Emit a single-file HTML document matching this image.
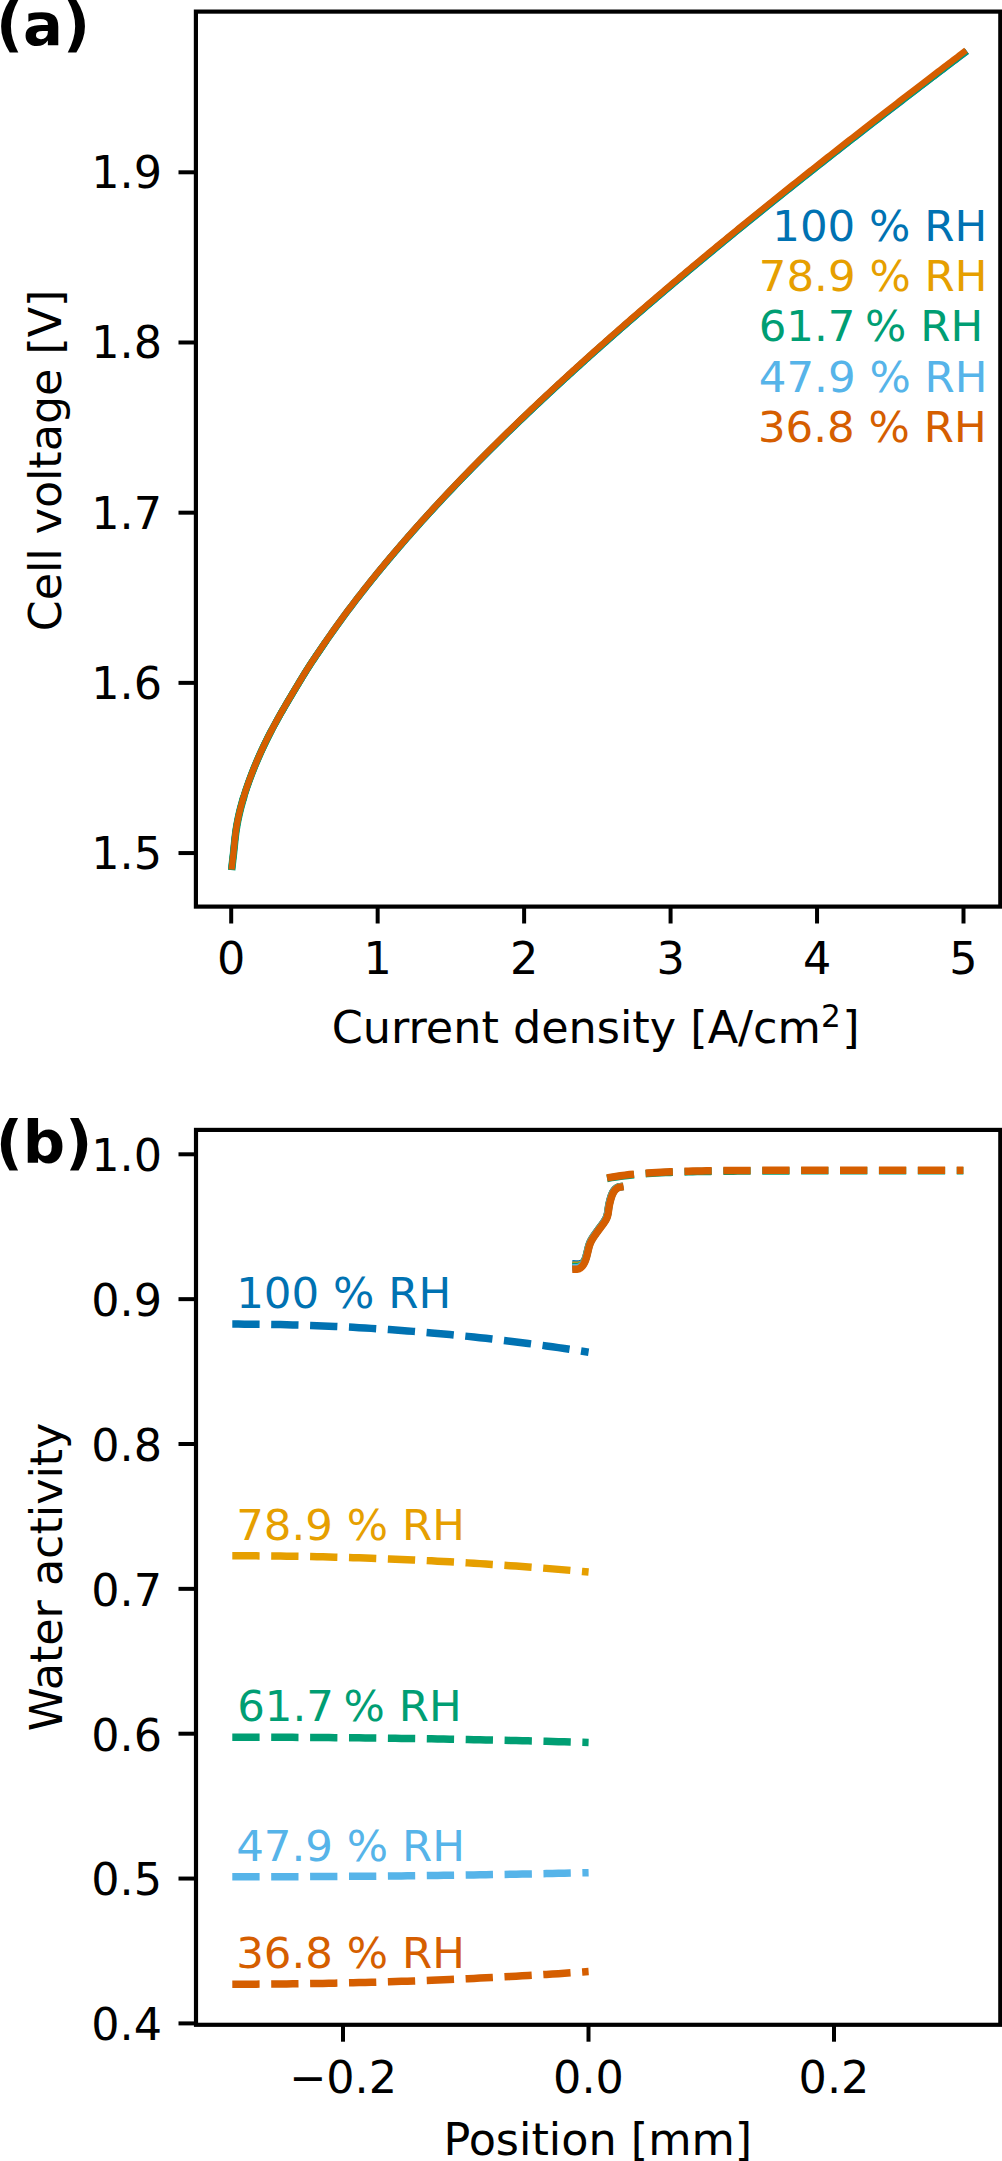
<!DOCTYPE html>
<html lang="en"><head><meta charset="utf-8"><title>Cell voltage and water activity</title>
<style>
html,body{margin:0;padding:0;background:#fff;}
svg{display:block;}
text{font-family:"DejaVu Sans", "Liberation Sans", sans-serif;font-size:44.5px;}
.an{font-size:43.5px;}
</style></head>
<body>
<svg width="1002" height="2161" viewBox="0 0 1002 2161">
<rect width="1002" height="2161" fill="#fff"/>
<rect x="195.9" y="11.6" width="804.40" height="895.00" fill="none" stroke="#000" stroke-width="4.17"/>
<path d="M231.95 866.35 L232.25 863.54 L232.57 860.73 L232.90 857.92 L233.23 855.12 L233.53 852.32 L233.82 849.52 L234.10 846.73 L234.39 843.95 L234.68 841.16 L234.98 838.39 L235.31 835.61 L235.66 832.84 L236.05 830.08 L236.47 827.32 L236.94 824.57 L237.45 821.82 L238.00 819.08 L238.58 816.35 L239.20 813.62 L239.85 810.90 L240.53 808.18 L241.25 805.47 L242.00 802.77 L242.77 800.08 L243.58 797.39 L244.40 794.71 L245.26 792.04 L246.13 789.37 L247.03 786.72 L247.95 784.07 L248.90 781.43 L249.86 778.80 L250.84 776.17 L251.84 773.56 L252.85 770.95 L253.89 768.35 L254.95 765.76 L256.02 763.17 L257.12 760.60 L258.23 758.03 L259.36 755.47 L260.51 752.91 L261.67 750.36 L262.86 747.82 L264.06 745.29 L265.28 742.76 L266.51 740.24 L267.76 737.73 L269.03 735.23 L270.31 732.73 L271.61 730.23 L272.93 727.75 L274.26 725.27 L275.61 722.79 L276.96 720.33 L278.33 717.86 L279.71 715.41 L281.11 712.96 L282.51 710.52 L283.92 708.08 L285.33 705.64 L286.76 703.22 L288.18 700.79 L289.62 698.38 L291.05 695.97 L292.49 693.56 L293.93 691.16 L295.37 688.76 L296.81 686.37 L298.25 683.99 L299.69 681.60 L301.13 679.23 L302.56 676.86 L304.00 674.49 L305.45 672.14 L306.92 669.79 L308.41 667.45 L309.92 665.11 L311.46 662.77 L313.01 660.43 L314.58 658.09 L316.16 655.74 L317.76 653.38 L319.36 651.02 L320.97 648.66 L322.59 646.29 L324.21 643.93 L325.82 641.57 L327.44 639.22 L329.06 636.89 L330.67 634.57 L332.28 632.27 L333.89 629.98 L335.50 627.71 L337.12 625.45 L338.74 623.21 L340.37 620.97 L342.00 618.74 L343.63 616.51 L345.28 614.29 L346.93 612.07 L348.59 609.86 L350.25 607.65 L351.92 605.44 L353.59 603.24 L355.28 601.04 L356.96 598.84 L358.66 596.65 L360.36 594.46 L362.07 592.28 L363.78 590.09 L365.50 587.91 L367.22 585.74 L368.95 583.57 L370.69 581.40 L372.43 579.23 L374.18 577.07 L375.93 574.91 L377.69 572.75 L379.45 570.60 L381.22 568.45 L383.00 566.30 L384.78 564.16 L386.56 562.02 L388.35 559.88 L390.15 557.75 L391.95 555.61 L393.76 553.49 L395.57 551.36 L397.39 549.24 L399.21 547.12 L401.04 545.00 L402.87 542.88 L404.70 540.77 L406.55 538.66 L408.39 536.56 L410.24 534.45 L412.10 532.35 L413.96 530.26 L415.82 528.16 L417.69 526.07 L419.57 523.98 L421.44 521.89 L423.33 519.81 L425.21 517.73 L427.10 515.65 L429.00 513.57 L430.90 511.50 L432.80 509.43 L434.71 507.36 L436.62 505.30 L438.54 503.23 L440.46 501.17 L442.38 499.12 L444.31 497.06 L446.24 495.01 L448.17 492.96 L450.11 490.91 L452.05 488.87 L454.00 486.83 L455.95 484.79 L457.90 482.75 L459.85 480.72 L461.81 478.69 L463.78 476.66 L465.74 474.63 L467.71 472.61 L469.68 470.59 L471.66 468.57 L473.64 466.56 L475.62 464.54 L477.60 462.53 L479.59 460.53 L481.58 458.52 L483.57 456.52 L485.57 454.52 L487.57 452.52 L489.57 450.53 L491.57 448.54 L493.58 446.55 L495.59 444.56 L497.60 442.58 L499.61 440.60 L501.63 438.62 L503.65 436.64 L505.67 434.67 L507.69 432.70 L509.72 430.73 L511.74 428.77 L513.77 426.80 L515.80 424.84 L517.84 422.89 L519.87 420.93 L521.91 418.98 L523.95 417.03 L525.99 415.08 L528.03 413.14 L530.08 411.20 L532.13 409.26 L534.17 407.33 L536.22 405.39 L538.27 403.46 L540.33 401.54 L542.38 399.61 L544.43 397.69 L546.49 395.77 L548.55 393.86 L550.61 391.94 L552.67 390.03 L554.73 388.12 L556.79 386.22 L558.85 384.32 L560.92 382.42 L562.98 380.52 L565.05 378.63 L567.12 376.74 L569.18 374.85 L571.25 372.97 L573.32 371.08 L575.39 369.21 L577.46 367.33 L579.53 365.46 L581.60 363.59 L583.67 361.72 L585.75 359.85 L587.82 357.99 L589.89 356.13 L591.97 354.28 L594.04 352.43 L596.11 350.58 L598.19 348.73 L600.26 346.89 L602.33 345.05 L604.41 343.21 L606.48 341.38 L608.56 339.54 L610.63 337.71 L612.71 335.88 L614.79 334.06 L616.87 332.23 L618.95 330.41 L621.03 328.59 L623.11 326.77 L625.19 324.96 L627.28 323.14 L629.37 321.32 L631.46 319.51 L633.55 317.70 L635.64 315.89 L637.74 314.07 L639.84 312.26 L641.94 310.45 L644.04 308.64 L646.15 306.83 L648.25 305.02 L650.37 303.21 L652.48 301.40 L654.60 299.59 L656.72 297.78 L658.84 295.97 L660.97 294.16 L663.10 292.35 L665.24 290.54 L667.38 288.72 L669.52 286.91 L671.67 285.09 L673.82 283.28 L675.98 281.46 L678.14 279.64 L680.30 277.82 L682.47 276.00 L684.64 274.18 L686.81 272.36 L688.99 270.54 L691.17 268.72 L693.35 266.90 L695.53 265.07 L697.72 263.26 L699.90 261.44 L702.09 259.62 L704.28 257.80 L706.48 255.98 L708.67 254.17 L710.86 252.35 L713.06 250.54 L715.25 248.73 L717.45 246.92 L719.64 245.12 L721.84 243.31 L724.03 241.51 L726.23 239.71 L728.42 237.91 L730.62 236.12 L732.81 234.32 L735.00 232.53 L737.19 230.75 L739.38 228.96 L741.56 227.18 L743.75 225.41 L745.93 223.63 L748.11 221.86 L750.29 220.10 L752.46 218.34 L754.64 216.58 L756.81 214.82 L758.98 213.07 L761.15 211.31 L763.32 209.57 L765.49 207.82 L767.65 206.08 L769.82 204.34 L771.98 202.60 L774.15 200.86 L776.31 199.13 L778.47 197.40 L780.63 195.67 L782.80 193.94 L784.96 192.21 L787.12 190.49 L789.28 188.77 L791.44 187.04 L793.60 185.32 L795.77 183.60 L797.93 181.88 L800.09 180.17 L802.26 178.45 L804.42 176.73 L806.59 175.02 L808.76 173.30 L810.92 171.59 L813.09 169.87 L815.26 168.16 L817.44 166.45 L819.61 164.73 L821.79 163.02 L823.97 161.30 L826.15 159.59 L828.33 157.87 L830.51 156.16 L832.70 154.44 L834.89 152.73 L837.08 151.01 L839.27 149.29 L841.47 147.57 L843.67 145.85 L845.88 144.13 L848.08 142.41 L850.29 140.69 L852.50 138.96 L854.72 137.24 L856.94 135.51 L859.17 133.78 L861.39 132.05 L863.63 130.31 L865.86 128.58 L868.10 126.84 L870.35 125.10 L872.59 123.36 L874.85 121.61 L877.11 119.87 L879.37 118.12 L881.64 116.37 L883.91 114.61 L886.19 112.85 L888.47 111.09 L890.76 109.33 L893.05 107.56 L895.35 105.80 L897.65 104.03 L899.96 102.25 L902.27 100.48 L904.57 98.71 L906.88 96.94 L909.19 95.17 L911.50 93.40 L913.80 91.64 L916.11 89.87 L918.40 88.12 L920.70 86.36 L922.99 84.62 L925.27 82.87 L927.54 81.14 L929.81 79.41 L932.07 77.69 L934.31 75.98 L936.55 74.28 L938.77 72.58 L940.99 70.90 L943.19 69.23 L945.37 67.57 L947.54 65.92 L949.69 64.29 L951.83 62.66 L953.95 61.06 L956.05 59.47 L958.13 57.89 L960.20 56.33 L962.24 54.78 L964.26 53.26" fill="none" stroke="#0072B2" stroke-width="6.70" stroke-linecap="square" stroke-linejoin="round"/>
<path d="M231.95 866.35 L232.25 863.54 L232.57 860.73 L232.90 857.92 L233.23 855.12 L233.53 852.32 L233.82 849.52 L234.10 846.73 L234.39 843.95 L234.68 841.16 L234.98 838.39 L235.30 835.61 L235.66 832.84 L236.05 830.08 L236.47 827.32 L236.94 824.57 L237.45 821.82 L238.00 819.08 L238.58 816.35 L239.20 813.62 L239.85 810.90 L240.53 808.18 L241.25 805.47 L241.99 802.77 L242.77 800.08 L243.57 797.39 L244.40 794.71 L245.25 792.04 L246.13 789.37 L247.03 786.72 L247.95 784.07 L248.89 781.43 L249.85 778.80 L250.83 776.17 L251.83 773.56 L252.85 770.95 L253.89 768.35 L254.94 765.76 L256.02 763.17 L257.11 760.59 L258.22 758.02 L259.35 755.46 L260.50 752.91 L261.67 750.36 L262.85 747.82 L264.05 745.29 L265.27 742.76 L266.50 740.24 L267.75 737.73 L269.02 735.22 L270.30 732.72 L271.60 730.23 L272.92 727.74 L274.25 725.26 L275.59 722.79 L276.95 720.32 L278.32 717.86 L279.70 715.40 L281.09 712.95 L282.49 710.51 L283.90 708.07 L285.32 705.64 L286.74 703.21 L288.17 700.79 L289.60 698.37 L291.04 695.96 L292.48 693.55 L293.92 691.15 L295.36 688.75 L296.80 686.36 L298.24 683.98 L299.68 681.59 L301.11 679.22 L302.54 676.85 L303.98 674.48 L305.43 672.13 L306.90 669.78 L308.39 667.44 L309.91 665.10 L311.44 662.76 L312.99 660.42 L314.56 658.07 L316.14 655.72 L317.74 653.37 L319.34 651.01 L320.95 648.64 L322.57 646.28 L324.18 643.91 L325.80 641.56 L327.42 639.21 L329.03 636.87 L330.65 634.55 L332.26 632.25 L333.87 629.96 L335.48 627.69 L337.10 625.43 L338.72 623.19 L340.34 620.95 L341.97 618.72 L343.61 616.50 L345.25 614.27 L346.90 612.05 L348.56 609.84 L350.22 607.63 L351.89 605.42 L353.57 603.22 L355.25 601.02 L356.94 598.82 L358.63 596.63 L360.33 594.44 L362.04 592.25 L363.75 590.07 L365.47 587.89 L367.19 585.72 L368.92 583.54 L370.66 581.37 L372.40 579.21 L374.15 577.04 L375.90 574.89 L377.66 572.73 L379.42 570.58 L381.19 568.42 L382.97 566.28 L384.75 564.13 L386.53 561.99 L388.32 559.85 L390.12 557.72 L391.92 555.59 L393.73 553.46 L395.54 551.33 L397.35 549.21 L399.17 547.09 L401.00 544.97 L402.83 542.85 L404.67 540.74 L406.51 538.63 L408.36 536.53 L410.21 534.42 L412.06 532.32 L413.92 530.22 L415.79 528.13 L417.65 526.04 L419.53 523.95 L421.41 521.86 L423.29 519.77 L425.17 517.69 L427.06 515.61 L428.96 513.54 L430.86 511.46 L432.76 509.39 L434.67 507.32 L436.58 505.26 L438.49 503.20 L440.41 501.14 L442.34 499.08 L444.26 497.02 L446.19 494.97 L448.13 492.92 L450.07 490.87 L452.01 488.83 L453.95 486.79 L455.90 484.75 L457.85 482.71 L459.81 480.68 L461.77 478.65 L463.73 476.62 L465.69 474.59 L467.66 472.57 L469.64 470.55 L471.61 468.53 L473.59 466.51 L475.57 464.50 L477.55 462.49 L479.54 460.48 L481.53 458.47 L483.52 456.47 L485.52 454.47 L487.52 452.47 L489.52 450.48 L491.52 448.49 L493.53 446.50 L495.54 444.51 L497.55 442.53 L499.56 440.54 L501.58 438.57 L503.59 436.59 L505.62 434.62 L507.64 432.64 L509.66 430.68 L511.69 428.71 L513.72 426.75 L515.75 424.79 L517.78 422.83 L519.82 420.87 L521.86 418.92 L523.90 416.97 L525.94 415.03 L527.98 413.08 L530.02 411.14 L532.07 409.20 L534.12 407.27 L536.17 405.33 L538.22 403.40 L540.27 401.48 L542.32 399.55 L544.38 397.63 L546.43 395.71 L548.49 393.79 L550.55 391.88 L552.61 389.97 L554.67 388.06 L556.73 386.15 L558.79 384.25 L560.86 382.35 L562.92 380.46 L564.99 378.56 L567.05 376.67 L569.12 374.78 L571.19 372.90 L573.26 371.02 L575.33 369.14 L577.40 367.26 L579.47 365.39 L581.54 363.51 L583.61 361.65 L585.68 359.78 L587.75 357.92 L589.83 356.06 L591.90 354.21 L593.97 352.35 L596.05 350.50 L598.12 348.66 L600.19 346.81 L602.27 344.97 L604.34 343.13 L606.41 341.30 L608.49 339.47 L610.56 337.63 L612.64 335.81 L614.72 333.98 L616.80 332.16 L618.88 330.33 L620.96 328.51 L623.04 326.69 L625.12 324.87 L627.21 323.06 L629.30 321.24 L631.38 319.43 L633.48 317.61 L635.57 315.80 L637.66 313.99 L639.76 312.18 L641.86 310.37 L643.97 308.56 L646.07 306.75 L648.18 304.94 L650.29 303.13 L652.41 301.32 L654.52 299.51 L656.64 297.70 L658.77 295.88 L660.90 294.07 L663.03 292.26 L665.16 290.45 L667.30 288.63 L669.45 286.82 L671.59 285.00 L673.75 283.18 L675.90 281.36 L678.06 279.55 L680.22 277.72 L682.39 275.90 L684.56 274.08 L686.73 272.26 L688.91 270.44 L691.09 268.62 L693.27 266.80 L695.45 264.98 L697.64 263.16 L699.82 261.34 L702.01 259.52 L704.20 257.70 L706.39 255.88 L708.59 254.07 L710.78 252.25 L712.97 250.44 L715.17 248.63 L717.36 246.82 L719.56 245.01 L721.75 243.21 L723.95 241.41 L726.14 239.60 L728.34 237.81 L730.53 236.01 L732.72 234.22 L734.91 232.43 L737.10 230.64 L739.29 228.86 L741.48 227.08 L743.66 225.30 L745.84 223.52 L748.02 221.75 L750.20 219.99 L752.37 218.22 L754.55 216.46 L756.72 214.71 L758.89 212.95 L761.06 211.20 L763.23 209.45 L765.40 207.71 L767.56 205.96 L769.73 204.22 L771.89 202.49 L774.05 200.75 L776.22 199.01 L778.38 197.28 L780.54 195.55 L782.70 193.82 L784.86 192.10 L787.02 190.37 L789.19 188.65 L791.35 186.92 L793.51 185.20 L795.67 183.48 L797.83 181.76 L800.00 180.04 L802.16 178.33 L804.32 176.61 L806.49 174.89 L808.66 173.18 L810.83 171.46 L812.99 169.75 L815.17 168.03 L817.34 166.32 L819.51 164.61 L821.69 162.89 L823.87 161.18 L826.05 159.46 L828.23 157.75 L830.41 156.03 L832.60 154.31 L834.79 152.60 L836.98 150.88 L839.17 149.16 L841.37 147.44 L843.57 145.72 L845.77 144.00 L847.98 142.28 L850.19 140.55 L852.40 138.83 L854.62 137.10 L856.84 135.37 L859.06 133.64 L861.29 131.91 L863.52 130.18 L865.76 128.44 L867.99 126.70 L870.24 124.96 L872.49 123.22 L874.74 121.47 L877.00 119.73 L879.26 117.98 L881.53 116.23 L883.80 114.47 L886.08 112.71 L888.36 110.95 L890.65 109.19 L892.94 107.42 L895.24 105.65 L897.54 103.88 L899.85 102.11 L902.15 100.34 L904.46 98.56 L906.77 96.79 L909.08 95.02 L911.39 93.25 L913.69 91.49 L915.99 89.73 L918.29 87.97 L920.58 86.21 L922.87 84.47 L925.15 82.72 L927.43 80.99 L929.69 79.26 L931.95 77.54 L934.20 75.83 L936.43 74.12 L938.66 72.43 L940.87 70.75 L943.07 69.07 L945.25 67.41 L947.42 65.77 L949.58 64.13 L951.71 62.51 L953.83 60.90 L955.93 59.31 L958.01 57.73 L960.08 56.17 L962.12 54.62 L964.13 53.10" fill="none" stroke="#009E73" stroke-width="6.70" stroke-linecap="square" stroke-linejoin="round"/>
<path d="M232.05 866.35 L232.34 863.54 L232.67 860.73 L233.00 857.92 L233.32 855.12 L233.63 852.32 L233.91 849.52 L234.20 846.73 L234.48 843.95 L234.77 841.16 L235.07 838.38 L235.40 835.61 L235.75 832.84 L236.14 830.08 L236.57 827.32 L237.03 824.57 L237.54 821.82 L238.09 819.08 L238.67 816.35 L239.28 813.62 L239.94 810.89 L240.62 808.18 L241.33 805.47 L242.08 802.77 L242.85 800.07" fill="none" stroke="#009E73" stroke-width="7.50" stroke-linecap="square"/>
<path d="M242.85 800.07 L243.65 797.38 L244.48 794.70 L245.33 792.03 L246.21 789.37 L247.11 786.71 L248.03 784.06 L248.97 781.42 L249.93 778.79 L250.90 776.16 L251.90 773.55 L252.92 770.94 L253.96 768.34 L255.01 765.74 L256.09 763.16 L257.18 760.58 L258.29 758.01 L259.42 755.45 L260.56 752.89 L261.73 750.34 L262.91 747.80 L264.11 745.27 L265.32 742.74 L266.56 740.22 L267.81 737.70 L269.07 735.20 L270.35 732.70 L271.65 730.20" fill="none" stroke="#009E73" stroke-width="7.10" stroke-linecap="butt"/>
<path d="M271.65 730.20 L272.97 727.71 L274.30 725.23 L275.64 722.76 L276.99 720.29 L278.36 717.83 L279.74 715.37 L281.13 712.92 L282.53 710.47 L283.94 708.03 L285.35 705.60 L286.77 703.17 L288.20 700.75 L289.63 698.33 L291.07 695.91 L292.50 693.51 L293.94 691.10 L295.38 688.71 L296.82 686.31 L298.26 683.93 L299.69 681.54 L301.12 679.17 L302.56 676.79 L303.99 674.43 L305.44 672.07 L306.91 669.72 L308.40 667.38 L309.91 665.04 L311.44 662.70 L313.00 660.35 L314.56 658.01 L316.14 655.66 L317.74 653.30 L319.34 650.94 L320.95 648.57 L322.56 646.20 L324.17 643.84 L325.79 641.48" fill="none" stroke="#009E73" stroke-width="6.75" stroke-linecap="butt"/>
<path d="M231.95 866.35 L232.24 863.54 L232.57 860.73 L232.90 857.92 L233.22 855.12 L233.53 852.32 L233.81 849.52 L234.10 846.73 L234.38 843.95 L234.67 841.16 L234.97 838.38 L235.30 835.61 L235.65 832.84 L236.04 830.08 L236.47 827.32 L236.93 824.57 L237.44 821.82 L237.99 819.08 L238.57 816.35 L239.18 813.62 L239.84 810.89 L240.52 808.18 L241.23 805.47 L241.98 802.77 L242.75 800.07 L243.55 797.38 L244.38 794.70 L245.23 792.03 L246.11 789.37 L247.01 786.71 L247.93 784.06 L248.87 781.42 L249.83 778.79 L250.80 776.16 L251.80 773.55 L252.82 770.94 L253.86 768.34 L254.91 765.74 L255.99 763.16 L257.08 760.58 L258.19 758.01 L259.32 755.45 L260.46 752.89 L261.63 750.34 L262.81 747.80 L264.01 745.27 L265.22 742.74 L266.46 740.22 L267.71 737.70 L268.97 735.20 L270.25 732.70 L271.55 730.20 L272.87 727.71 L274.20 725.23 L275.54 722.76 L276.89 720.29 L278.26 717.83 L279.64 715.37 L281.03 712.92 L282.43 710.47 L283.84 708.03 L285.25 705.60 L286.67 703.17 L288.10 700.75 L289.53 698.33 L290.97 695.91 L292.40 693.51 L293.84 691.10 L295.28 688.71 L296.72 686.31 L298.16 683.93 L299.59 681.54 L301.02 679.17 L302.46 676.79 L303.89 674.43 L305.34 672.07 L306.81 669.72 L308.30 667.38 L309.81 665.04 L311.34 662.70 L312.90 660.35 L314.46 658.01 L316.04 655.66 L317.64 653.30 L319.24 650.94 L320.85 648.57 L322.46 646.20 L324.07 643.84 L325.69 641.48 L327.31 639.13 L328.92 636.79 L330.53 634.47 L332.14 632.17 L333.75 629.88 L335.36 627.61 L336.97 625.35 L338.59 623.10 L340.22 620.86 L341.84 618.63 L343.48 616.40 L345.12 614.18 L346.77 611.96 L348.43 609.74 L350.09 607.53 L351.75 605.32 L353.43 603.11 L355.11 600.91 L356.79 598.71 L358.49 596.52 L360.19 594.33 L361.89 592.14 L363.60 589.95 L365.32 587.77 L367.04 585.59 L368.77 583.42 L370.50 581.25 L372.24 579.08 L373.99 576.92 L375.74 574.75 L377.49 572.60 L379.26 570.44 L381.02 568.29 L382.80 566.14 L384.58 563.99 L386.36 561.85 L388.15 559.71 L389.94 557.57 L391.74 555.44 L393.55 553.31 L395.36 551.18 L397.17 549.05 L398.99 546.93 L400.82 544.81 L402.65 542.69 L404.48 540.58 L406.32 538.47 L408.16 536.36 L410.01 534.25 L411.87 532.15 L413.73 530.05 L415.59 527.95 L417.46 525.86 L419.33 523.77 L421.20 521.68 L423.08 519.59 L424.97 517.51 L426.86 515.42 L428.75 513.35 L430.65 511.27 L432.55 509.20 L434.45 507.13 L436.36 505.06 L438.28 502.99 L440.19 500.93 L442.12 498.87 L444.04 496.81 L445.97 494.76 L447.90 492.71 L449.84 490.66 L451.78 488.61 L453.72 486.57 L455.67 484.53 L457.62 482.49 L459.57 480.45 L461.53 478.42 L463.49 476.38 L465.45 474.36 L467.42 472.33 L469.39 470.31 L471.36 468.29 L473.34 466.27 L475.32 464.25 L477.30 462.24 L479.29 460.23 L481.28 458.22 L483.27 456.22 L485.26 454.21 L487.26 452.21 L489.26 450.22 L491.26 448.22 L493.26 446.23 L495.27 444.24 L497.28 442.25 L499.29 440.27 L501.31 438.29 L503.32 436.31 L505.34 434.33 L507.36 432.36 L509.39 430.39 L511.41 428.42 L513.44 426.46 L515.47 424.49 L517.50 422.53 L519.53 420.58 L521.57 418.62 L523.61 416.67 L525.64 414.72 L527.69 412.77 L529.73 410.83 L531.77 408.89 L533.82 406.95 L535.87 405.02 L537.91 403.08 L539.96 401.15 L542.02 399.23 L544.07 397.30 L546.12 395.38 L548.18 393.46 L550.24 391.54 L552.29 389.63 L554.35 387.72 L556.41 385.81 L558.47 383.91 L560.54 382.01 L562.60 380.11 L564.66 378.21 L566.73 376.32 L568.79 374.43 L570.86 372.54 L572.93 370.65 L575.00 368.77 L577.06 366.89 L579.13 365.02 L581.20 363.14 L583.27 361.27 L585.34 359.41 L587.41 357.54 L589.48 355.68 L591.55 353.82 L593.63 351.97 L595.70 350.11 L597.77 348.26 L599.84 346.42 L601.91 344.57 L603.98 342.73 L606.06 340.90 L608.13 339.06 L610.20 337.23 L612.28 335.40 L614.36 333.57 L616.43 331.74 L618.51 329.92 L620.59 328.09 L622.67 326.27 L624.75 324.45 L626.84 322.63 L628.92 320.81 L631.01 319.00 L633.10 317.18 L635.19 315.36 L637.28 313.55 L639.38 311.74 L641.48 309.92 L643.58 308.11 L645.68 306.30 L647.79 304.48 L649.90 302.67 L652.01 300.86 L654.13 299.05 L656.25 297.23 L658.37 295.42 L660.50 293.60 L662.63 291.79 L664.76 289.97 L666.90 288.16 L669.04 286.34 L671.19 284.52 L673.34 282.70 L675.49 280.88 L677.65 279.06 L679.81 277.23 L681.97 275.41 L684.14 273.59 L686.31 271.76 L688.49 269.94 L690.66 268.11 L692.84 266.29 L695.02 264.47 L697.21 262.64 L699.39 260.82 L701.58 259.00 L703.77 257.18 L705.96 255.36 L708.15 253.54 L710.34 251.73 L712.53 249.91 L714.73 248.10 L716.92 246.28 L719.11 244.47 L721.31 242.67 L723.50 240.86 L725.69 239.06 L727.88 237.26 L730.08 235.46 L732.27 233.66 L734.45 231.87 L736.64 230.08 L738.83 228.29 L741.01 226.51 L743.20 224.73 L745.38 222.95 L747.55 221.18 L749.73 219.41 L751.90 217.65 L754.08 215.88 L756.25 214.12 L758.42 212.37 L760.58 210.61 L762.75 208.86 L764.92 207.11 L767.08 205.37 L769.24 203.62 L771.41 201.88 L773.57 200.14 L775.73 198.41 L777.89 196.67 L780.05 194.94 L782.21 193.21 L784.37 191.48 L786.53 189.75 L788.69 188.02 L790.85 186.30 L793.01 184.57 L795.17 182.85 L797.33 181.13 L799.49 179.41 L801.65 177.69 L803.81 175.97 L805.98 174.25 L808.14 172.53 L810.31 170.81 L812.48 169.10 L814.65 167.38 L816.82 165.66 L818.99 163.94 L821.16 162.23 L823.34 160.51 L825.52 158.79 L827.70 157.07 L829.88 155.36 L832.07 153.64 L834.25 151.92 L836.44 150.20 L838.63 148.48 L840.83 146.75 L843.03 145.03 L845.23 143.31 L847.43 141.58 L849.64 139.85 L851.85 138.13 L854.07 136.40 L856.29 134.67 L858.51 132.93 L860.73 131.20 L862.96 129.46 L865.20 127.72 L867.43 125.98 L869.68 124.24 L871.92 122.49 L874.18 120.75 L876.43 119.00 L878.69 117.24 L880.96 115.49 L883.23 113.73 L885.50 111.97 L887.78 110.21 L890.07 108.44 L892.36 106.67 L894.66 104.90 L896.96 103.13 L899.26 101.35 L901.57 99.57 L903.87 97.80 L906.18 96.03 L908.49 94.25 L910.79 92.48 L913.10 90.71 L915.40 88.95 L917.69 87.19 L919.98 85.43 L922.27 83.68 L924.55 81.93 L926.82 80.20 L929.08 78.46 L931.34 76.74 L933.58 75.03 L935.82 73.32 L938.04 71.62 L940.25 69.94 L942.45 68.26 L944.63 66.60 L946.80 64.95 L948.95 63.31 L951.09 61.69 L953.21 60.08 L955.30 58.48 L957.38 56.90 L959.44 55.34 L961.48 53.79 L963.50 52.26" fill="none" stroke="#D55E00" stroke-width="6.3" stroke-linecap="square" stroke-linejoin="round"/>
<line x1="231.20" y1="906.6" x2="231.20" y2="923.50" stroke="#000" stroke-width="4.0"/>
<text x="231.20" y="974.0" text-anchor="middle">0</text>
<line x1="377.66" y1="906.6" x2="377.66" y2="923.50" stroke="#000" stroke-width="4.0"/>
<text x="377.66" y="974.0" text-anchor="middle">1</text>
<line x1="524.12" y1="906.6" x2="524.12" y2="923.50" stroke="#000" stroke-width="4.0"/>
<text x="524.12" y="974.0" text-anchor="middle">2</text>
<line x1="670.58" y1="906.6" x2="670.58" y2="923.50" stroke="#000" stroke-width="4.0"/>
<text x="670.58" y="974.0" text-anchor="middle">3</text>
<line x1="817.04" y1="906.6" x2="817.04" y2="923.50" stroke="#000" stroke-width="4.0"/>
<text x="817.04" y="974.0" text-anchor="middle">4</text>
<line x1="963.50" y1="906.6" x2="963.50" y2="923.50" stroke="#000" stroke-width="4.0"/>
<text x="963.50" y="974.0" text-anchor="middle">5</text>
<line x1="195.9" y1="172.30" x2="178.50" y2="172.30" stroke="#000" stroke-width="4.0"/>
<text x="162.0" y="188.30" text-anchor="end">1.9</text>
<line x1="195.9" y1="342.49" x2="178.50" y2="342.49" stroke="#000" stroke-width="4.0"/>
<text x="162.0" y="358.49" text-anchor="end">1.8</text>
<line x1="195.9" y1="512.68" x2="178.50" y2="512.68" stroke="#000" stroke-width="4.0"/>
<text x="162.0" y="528.68" text-anchor="end">1.7</text>
<line x1="195.9" y1="682.87" x2="178.50" y2="682.87" stroke="#000" stroke-width="4.0"/>
<text x="162.0" y="698.87" text-anchor="end">1.6</text>
<line x1="195.9" y1="853.06" x2="178.50" y2="853.06" stroke="#000" stroke-width="4.0"/>
<text x="162.0" y="869.06" text-anchor="end">1.5</text>
<text x="331.7" y="1043">Current density [A/cm<tspan dy="-16.5" style="font-size:31.15px">2</tspan><tspan dy="16.5" dx="1.5">]</tspan></text>
<text transform="translate(60.9 631.3) rotate(-90)" style="font-size:44.35px">Cell voltage [V]</text>
<text x="-4" y="44.7" style="font-weight:bold;font-size:59.2px">(a)</text>
<text class="an" x="987.2" y="240.6" text-anchor="end" style="fill:#0072B2">100 % RH</text>
<text class="an" x="987.5" y="290.7" text-anchor="end" style="fill:#E69F00">78.9 % RH</text>
<text class="an" x="758.7" y="341.0" text-anchor="start" style="fill:#009E73">61.7 <tspan dx="-4.3">%</tspan> RH</text>
<text class="an" x="987.5" y="391.6" text-anchor="end" style="fill:#56B4E9">47.9 % RH</text>
<text class="an" x="986.7" y="441.8" text-anchor="end" style="fill:#D55E00">36.8 % RH</text>
<rect x="196.0" y="1129.9" width="804.30" height="894.90" fill="none" stroke="#000" stroke-width="4.17"/>
<line x1="196.0" y1="1154.30" x2="178.50" y2="1154.30" stroke="#000" stroke-width="4.0"/>
<text x="162.0" y="1171.10" text-anchor="end">1.0</text>
<line x1="196.0" y1="1299.15" x2="178.50" y2="1299.15" stroke="#000" stroke-width="4.0"/>
<text x="162.0" y="1315.95" text-anchor="end">0.9</text>
<line x1="196.0" y1="1444.00" x2="178.50" y2="1444.00" stroke="#000" stroke-width="4.0"/>
<text x="162.0" y="1460.80" text-anchor="end">0.8</text>
<line x1="196.0" y1="1588.85" x2="178.50" y2="1588.85" stroke="#000" stroke-width="4.0"/>
<text x="162.0" y="1605.65" text-anchor="end">0.7</text>
<line x1="196.0" y1="1733.70" x2="178.50" y2="1733.70" stroke="#000" stroke-width="4.0"/>
<text x="162.0" y="1750.50" text-anchor="end">0.6</text>
<line x1="196.0" y1="1878.55" x2="178.50" y2="1878.55" stroke="#000" stroke-width="4.0"/>
<text x="162.0" y="1895.35" text-anchor="end">0.5</text>
<line x1="196.0" y1="2023.40" x2="178.50" y2="2023.40" stroke="#000" stroke-width="4.0"/>
<text x="162.0" y="2040.20" text-anchor="end">0.4</text>
<line x1="343.00" y1="2024.8" x2="343.00" y2="2041.70" stroke="#000" stroke-width="4.0"/>
<text x="343.00" y="2092.8" text-anchor="middle">−0.2</text>
<line x1="588.50" y1="2024.8" x2="588.50" y2="2041.70" stroke="#000" stroke-width="4.0"/>
<text x="588.50" y="2092.8" text-anchor="middle">0.0</text>
<line x1="834.00" y1="2024.8" x2="834.00" y2="2041.70" stroke="#000" stroke-width="4.0"/>
<text x="834.00" y="2092.8" text-anchor="middle">0.2</text>
<text x="443.4" y="2154.6">Position [mm]</text>
<text transform="translate(62.2 1731.3) rotate(-90)" style="font-size:44.35px">Water activity</text>
<text x="-4.2" y="1163.4" style="font-weight:bold;font-size:59.2px">(b)</text>
<path d="M232.30 1324.10 L238.34 1324.11 L244.38 1324.13 L250.42 1324.17 L256.46 1324.23 L262.49 1324.30 L268.53 1324.39 L274.57 1324.50 L280.61 1324.62 L286.65 1324.75 L292.69 1324.91 L298.73 1325.08 L304.77 1325.26 L310.81 1325.46 L316.85 1325.68 L322.88 1325.92 L328.92 1326.17 L334.96 1326.43 L341.00 1326.72 L347.04 1327.01 L353.08 1327.33 L359.12 1327.66 L365.16 1328.01 L371.20 1328.37 L377.24 1328.75 L383.27 1329.15 L389.31 1329.56 L395.35 1329.98 L401.39 1330.43 L407.43 1330.89 L413.47 1331.37 L419.51 1331.86 L425.55 1332.37 L431.59 1332.89 L437.63 1333.43 L443.66 1333.99 L449.70 1334.56 L455.74 1335.15 L461.78 1335.76 L467.82 1336.38 L473.86 1337.02 L479.90 1337.67 L485.94 1338.34 L491.98 1339.03 L498.02 1339.73 L504.05 1340.45 L510.09 1341.18 L516.13 1341.93 L522.17 1342.70 L528.21 1343.48 L534.25 1344.28 L540.29 1345.10 L546.33 1345.93 L552.37 1346.78 L558.41 1347.64 L564.44 1348.52 L570.48 1349.42 L576.52 1350.33 L582.56 1351.26 L588.60 1352.20" fill="none" stroke="#0072B2" stroke-width="7.5" stroke-dasharray="27.3 11.6"/>
<text class="an" x="236.2" y="1307.9" style="fill:#0072B2">100 % RH</text>
<path d="M232.30 1555.80 L238.34 1555.80 L244.38 1555.82 L250.42 1555.84 L256.46 1555.87 L262.49 1555.92 L268.53 1555.97 L274.57 1556.03 L280.61 1556.10 L286.65 1556.18 L292.69 1556.27 L298.73 1556.36 L304.77 1556.47 L310.81 1556.59 L316.85 1556.71 L322.88 1556.85 L328.92 1556.99 L334.96 1557.14 L341.00 1557.31 L347.04 1557.48 L353.08 1557.66 L359.12 1557.85 L365.16 1558.05 L371.20 1558.26 L377.24 1558.48 L383.27 1558.71 L389.31 1558.95 L395.35 1559.19 L401.39 1559.45 L407.43 1559.71 L413.47 1559.99 L419.51 1560.27 L425.55 1560.57 L431.59 1560.87 L437.63 1561.18 L443.66 1561.50 L449.70 1561.83 L455.74 1562.17 L461.78 1562.52 L467.82 1562.88 L473.86 1563.25 L479.90 1563.62 L485.94 1564.01 L491.98 1564.40 L498.02 1564.81 L504.05 1565.22 L510.09 1565.65 L516.13 1566.08 L522.17 1566.52 L528.21 1566.97 L534.25 1567.43 L540.29 1567.90 L546.33 1568.38 L552.37 1568.87 L558.41 1569.37 L564.44 1569.88 L570.48 1570.39 L576.52 1570.92 L582.56 1571.46 L588.60 1572.00" fill="none" stroke="#E69F00" stroke-width="7.5" stroke-dasharray="27.3 11.6"/>
<text class="an" x="236.2" y="1539.6" style="fill:#E69F00">78.9 % RH</text>
<path d="M232.30 1737.20 L238.34 1737.20 L244.38 1737.21 L250.42 1737.21 L256.46 1737.22 L262.49 1737.24 L268.53 1737.25 L274.57 1737.27 L280.61 1737.30 L286.65 1737.32 L292.69 1737.35 L298.73 1737.38 L304.77 1737.42 L310.81 1737.46 L316.85 1737.50 L322.88 1737.54 L328.92 1737.59 L334.96 1737.64 L341.00 1737.69 L347.04 1737.75 L353.08 1737.81 L359.12 1737.87 L365.16 1737.94 L371.20 1738.01 L377.24 1738.08 L383.27 1738.15 L389.31 1738.23 L395.35 1738.31 L401.39 1738.39 L407.43 1738.48 L413.47 1738.57 L419.51 1738.66 L425.55 1738.76 L431.59 1738.86 L437.63 1738.96 L443.66 1739.07 L449.70 1739.17 L455.74 1739.28 L461.78 1739.40 L467.82 1739.52 L473.86 1739.64 L479.90 1739.76 L485.94 1739.89 L491.98 1740.02 L498.02 1740.15 L504.05 1740.28 L510.09 1740.42 L516.13 1740.56 L522.17 1740.71 L528.21 1740.86 L534.25 1741.01 L540.29 1741.16 L546.33 1741.32 L552.37 1741.48 L558.41 1741.64 L564.44 1741.81 L570.48 1741.97 L576.52 1742.15 L582.56 1742.32 L588.60 1742.50" fill="none" stroke="#009E73" stroke-width="7.5" stroke-dasharray="27.3 11.6"/>
<text class="an" x="237.2" y="1721.0" style="fill:#009E73">61.7 <tspan dx="-4.3">%</tspan> RH</text>
<path d="M232.30 1876.80 L238.34 1876.80 L244.38 1876.80 L250.42 1876.79 L256.46 1876.78 L262.49 1876.77 L268.53 1876.76 L274.57 1876.74 L280.61 1876.72 L286.65 1876.70 L292.69 1876.68 L298.73 1876.66 L304.77 1876.63 L310.81 1876.60 L316.85 1876.57 L322.88 1876.53 L328.92 1876.50 L334.96 1876.46 L341.00 1876.42 L347.04 1876.37 L353.08 1876.33 L359.12 1876.28 L365.16 1876.23 L371.20 1876.18 L377.24 1876.12 L383.27 1876.06 L389.31 1876.00 L395.35 1875.94 L401.39 1875.88 L407.43 1875.81 L413.47 1875.74 L419.51 1875.67 L425.55 1875.59 L431.59 1875.52 L437.63 1875.44 L443.66 1875.36 L449.70 1875.27 L455.74 1875.19 L461.78 1875.10 L467.82 1875.01 L473.86 1874.92 L479.90 1874.82 L485.94 1874.72 L491.98 1874.62 L498.02 1874.52 L504.05 1874.41 L510.09 1874.31 L516.13 1874.20 L522.17 1874.09 L528.21 1873.97 L534.25 1873.86 L540.29 1873.74 L546.33 1873.62 L552.37 1873.49 L558.41 1873.37 L564.44 1873.24 L570.48 1873.11 L576.52 1872.97 L582.56 1872.84 L588.60 1872.70" fill="none" stroke="#56B4E9" stroke-width="7.5" stroke-dasharray="27.3 11.6"/>
<text class="an" x="236.2" y="1860.6" style="fill:#56B4E9">47.9 % RH</text>
<path d="M232.30 1984.20 L238.34 1984.20 L244.38 1984.19 L250.42 1984.17 L256.46 1984.14 L262.49 1984.11 L268.53 1984.07 L274.57 1984.02 L280.61 1983.97 L286.65 1983.91 L292.69 1983.84 L298.73 1983.76 L304.77 1983.68 L310.81 1983.59 L316.85 1983.49 L322.88 1983.39 L328.92 1983.27 L334.96 1983.15 L341.00 1983.03 L347.04 1982.89 L353.08 1982.75 L359.12 1982.60 L365.16 1982.45 L371.20 1982.29 L377.24 1982.12 L383.27 1981.94 L389.31 1981.75 L395.35 1981.56 L401.39 1981.36 L407.43 1981.16 L413.47 1980.94 L419.51 1980.72 L425.55 1980.49 L431.59 1980.26 L437.63 1980.02 L443.66 1979.77 L449.70 1979.51 L455.74 1979.24 L461.78 1978.97 L467.82 1978.69 L473.86 1978.41 L479.90 1978.12 L485.94 1977.81 L491.98 1977.51 L498.02 1977.19 L504.05 1976.87 L510.09 1976.54 L516.13 1976.20 L522.17 1975.86 L528.21 1975.51 L534.25 1975.15 L540.29 1974.79 L546.33 1974.41 L552.37 1974.03 L558.41 1973.65 L564.44 1973.25 L570.48 1972.85 L576.52 1972.44 L582.56 1972.02 L588.60 1971.60" fill="none" stroke="#D55E00" stroke-width="7.5" stroke-dasharray="27.3 11.6"/>
<text class="an" x="236.2" y="1968.0" style="fill:#D55E00">36.8 % RH</text>
<path d="M575.95 1264.03 L576.83 1264.07 L577.65 1264.04 L578.42 1263.96 L579.14 1263.87 L579.81 1263.76 L580.43 1263.64 L581.01 1263.52 L581.54 1263.37 L582.03 1263.18 L582.50 1262.92 L582.93 1262.59 L583.34 1262.19 L583.72 1261.72 L584.08 1261.18 L584.41 1260.59 L584.73 1259.96 L585.02 1259.30 L585.30 1258.61 L585.55 1257.90 L585.79 1257.17 L586.02 1256.43 L586.24 1255.68 L586.44 1254.92 L586.64 1254.15 L586.83 1253.38 L587.01 1252.60 L587.19 1251.82 L587.37 1251.04 L587.55 1250.27 L587.73 1249.49 L587.92 1248.72 L588.11 1247.94 L588.32 1247.18 L588.53 1246.42 L588.75 1245.66 L588.99 1244.91 L589.25 1244.17 L589.52 1243.43 L589.81 1242.70 L590.13 1241.97 L590.47 1241.25 L590.83 1240.54 L591.22 1239.83 L591.62 1239.13 L592.04 1238.43 L592.48 1237.73 L592.93 1237.04 L593.39 1236.36 L593.85 1235.68 L594.33 1235.00 L594.81 1234.33 L595.28 1233.66 L595.76 1232.99 L596.24 1232.33 L596.72 1231.67 L597.19 1231.01 L597.67 1230.35 L598.15 1229.70 L598.62 1229.04 L599.10 1228.39 L599.59 1227.73 L600.07 1227.08 L600.56 1226.42 L601.05 1225.76 L601.54 1225.09 L602.04 1224.43 L602.54 1223.76 L603.03 1223.08 L603.51 1222.40 L603.98 1221.72 L604.43 1221.02 L604.86 1220.33 L605.27 1219.62 L605.66 1218.91 L606.01 1218.19 L606.33 1217.46 L606.61 1216.72 L606.86 1215.98 L607.07 1215.22 L607.26 1214.46 L607.42 1213.69 L607.57 1212.91 L607.70 1212.13 L607.82 1211.34 L607.93 1210.55 L608.04 1209.75 L608.15 1208.95 L608.26 1208.14 L608.39 1207.33 L608.52 1206.52 L608.66 1205.71 L608.82 1204.90 L608.98 1204.08 L609.15 1203.27 L609.33 1202.45 L609.53 1201.64 L609.73 1200.83 L609.94 1200.02 L610.16 1199.21 L610.39 1198.40 L610.63 1197.60 L610.88 1196.81 L611.14 1196.02 L611.42 1195.24 L611.72 1194.48 L612.05 1193.73 L612.39 1192.99 L612.76 1192.28 L613.17 1191.59 L613.60 1190.92 L614.07 1190.28 L614.57 1189.67 L615.11 1189.09 L615.70 1188.55 L616.33 1188.04 L617.01 1187.58 L617.74 1187.19 L618.52 1186.92 L619.35 1186.79" fill="none" stroke="#0072B2" stroke-width="7.5" stroke-linecap="square" stroke-linejoin="round"/>
<path d="M575.95 1265.31 L576.83 1265.33 L577.65 1265.28 L578.43 1265.17 L579.15 1265.03 L579.83 1264.86 L580.46 1264.67 L581.04 1264.45 L581.58 1264.20 L582.09 1263.91 L582.56 1263.56 L583.00 1263.15 L583.41 1262.67 L583.80 1262.13 L584.16 1261.54 L584.50 1260.91 L584.82 1260.24 L585.12 1259.55 L585.39 1258.84 L585.65 1258.11 L585.90 1257.37 L586.12 1256.61 L586.34 1255.85 L586.55 1255.08 L586.74 1254.30 L586.93 1253.52 L587.12 1252.74 L587.30 1251.96 L587.48 1251.17 L587.66 1250.39 L587.84 1249.61 L588.03 1248.83 L588.22 1248.06 L588.42 1247.29 L588.64 1246.53 L588.86 1245.77 L589.10 1245.01 L589.36 1244.27 L589.63 1243.53 L589.92 1242.80 L590.24 1242.07 L590.58 1241.35 L590.94 1240.63 L591.32 1239.92 L591.73 1239.22 L592.15 1238.52 L592.59 1237.83 L593.04 1237.14 L593.50 1236.45 L593.96 1235.77 L594.44 1235.09 L594.91 1234.42 L595.39 1233.75 L595.87 1233.08 L596.35 1232.42 L596.83 1231.76 L597.30 1231.10 L597.78 1230.45 L598.26 1229.79 L598.73 1229.13 L599.21 1228.48 L599.70 1227.82 L600.18 1227.17 L600.67 1226.51 L601.16 1225.85 L601.65 1225.18 L602.15 1224.52 L602.65 1223.85 L603.14 1223.17 L603.62 1222.49 L604.09 1221.81 L604.54 1221.11 L604.97 1220.42 L605.38 1219.71 L605.77 1219.00 L606.12 1218.28 L606.44 1217.55 L606.72 1216.81 L606.97 1216.07 L607.18 1215.31 L607.37 1214.55 L607.53 1213.78 L607.68 1213.00 L607.81 1212.22 L607.93 1211.43 L608.04 1210.64 L608.15 1209.84 L608.26 1209.04 L608.37 1208.23 L608.50 1207.42 L608.63 1206.61 L608.77 1205.80 L608.93 1204.99 L609.09 1204.17 L609.26 1203.36 L609.44 1202.54 L609.64 1201.73 L609.84 1200.92 L610.05 1200.11 L610.27 1199.30 L610.50 1198.49 L610.74 1197.69 L610.99 1196.90 L611.25 1196.11 L611.53 1195.33 L611.83 1194.57 L612.16 1193.82 L612.50 1193.08 L612.87 1192.37 L613.28 1191.68 L613.71 1191.01 L614.18 1190.37 L614.68 1189.76 L615.22 1189.18 L615.81 1188.64 L616.44 1188.13 L617.12 1187.67 L617.85 1187.28 L618.63 1187.01 L619.46 1186.88" fill="none" stroke="#E69F00" stroke-width="7.5" stroke-linecap="square" stroke-linejoin="round"/>
<path d="M575.96 1266.59 L576.83 1266.60 L577.66 1266.52 L578.44 1266.38 L579.17 1266.19 L579.85 1265.96 L580.48 1265.69 L581.07 1265.38 L581.62 1265.04 L582.14 1264.64 L582.62 1264.20 L583.07 1263.70 L583.49 1263.15 L583.88 1262.54 L584.25 1261.90 L584.59 1261.22 L584.91 1260.52 L585.21 1259.80 L585.49 1259.07 L585.75 1258.32 L586.00 1257.56 L586.23 1256.79 L586.44 1256.02 L586.65 1255.24 L586.85 1254.45 L587.04 1253.67 L587.22 1252.88 L587.40 1252.09 L587.58 1251.30 L587.77 1250.52 L587.95 1249.73 L588.14 1248.95 L588.33 1248.18 L588.53 1247.40 L588.75 1246.64 L588.97 1245.87 L589.21 1245.12 L589.46 1244.37 L589.74 1243.63 L590.03 1242.90 L590.35 1242.17 L590.69 1241.45 L591.05 1240.73 L591.43 1240.02 L591.84 1239.31 L592.26 1238.61 L592.70 1237.92 L593.15 1237.23 L593.61 1236.54 L594.07 1235.86 L594.55 1235.18 L595.02 1234.51 L595.50 1233.84 L595.98 1233.17 L596.46 1232.51 L596.94 1231.85 L597.41 1231.19 L597.89 1230.54 L598.37 1229.88 L598.84 1229.22 L599.32 1228.57 L599.81 1227.91 L600.29 1227.26 L600.78 1226.60 L601.27 1225.94 L601.76 1225.27 L602.26 1224.61 L602.76 1223.94 L603.25 1223.26 L603.73 1222.58 L604.20 1221.90 L604.65 1221.21 L605.08 1220.51 L605.49 1219.80 L605.88 1219.09 L606.23 1218.37 L606.55 1217.64 L606.83 1216.90 L607.08 1216.16 L607.29 1215.40 L607.48 1214.64 L607.64 1213.87 L607.79 1213.09 L607.92 1212.31 L608.04 1211.52 L608.15 1210.73 L608.26 1209.93 L608.37 1209.13 L608.48 1208.32 L608.61 1207.51 L608.74 1206.70 L608.88 1205.89 L609.04 1205.08 L609.20 1204.26 L609.37 1203.45 L609.55 1202.63 L609.75 1201.82 L609.95 1201.01 L610.16 1200.20 L610.38 1199.39 L610.61 1198.58 L610.85 1197.78 L611.10 1196.99 L611.36 1196.20 L611.64 1195.42 L611.94 1194.66 L612.27 1193.91 L612.61 1193.17 L612.98 1192.46 L613.39 1191.77 L613.82 1191.10 L614.29 1190.46 L614.79 1189.85 L615.33 1189.27 L615.92 1188.73 L616.55 1188.22 L617.23 1187.76 L617.96 1187.37 L618.74 1187.10 L619.57 1186.97" fill="none" stroke="#009E73" stroke-width="7.5" stroke-linecap="square" stroke-linejoin="round"/>
<path d="M575.96 1267.78 L576.84 1267.77 L577.66 1267.67 L578.44 1267.50 L579.18 1267.27 L579.86 1266.98 L580.51 1266.64 L581.11 1266.25 L581.67 1265.81 L582.19 1265.33 L582.68 1264.79 L583.13 1264.21 L583.56 1263.59 L583.96 1262.93 L584.33 1262.24 L584.68 1261.52 L585.00 1260.79 L585.31 1260.04 L585.59 1259.28 L585.85 1258.52 L586.10 1257.74 L586.33 1256.96 L586.55 1256.18 L586.75 1255.39 L586.95 1254.60 L587.14 1253.81 L587.33 1253.02 L587.51 1252.22 L587.69 1251.43 L587.87 1250.64 L588.06 1249.85 L588.24 1249.07 L588.44 1248.29 L588.64 1247.51 L588.85 1246.74 L589.08 1245.98 L589.32 1245.22 L589.57 1244.47 L589.85 1243.73 L590.14 1242.99 L590.46 1242.26 L590.80 1241.54 L591.16 1240.82 L591.54 1240.11 L591.95 1239.41 L592.37 1238.71 L592.81 1238.01 L593.26 1237.32 L593.72 1236.63 L594.18 1235.95 L594.66 1235.27 L595.13 1234.60 L595.61 1233.93 L596.09 1233.26 L596.57 1232.60 L597.05 1231.94 L597.52 1231.28 L598.00 1230.63 L598.48 1229.97 L598.95 1229.31 L599.43 1228.66 L599.92 1228.00 L600.40 1227.35 L600.89 1226.69 L601.38 1226.03 L601.87 1225.36 L602.37 1224.70 L602.87 1224.03 L603.36 1223.35 L603.84 1222.67 L604.31 1221.99 L604.76 1221.30 L605.19 1220.60 L605.60 1219.89 L605.99 1219.18 L606.34 1218.46 L606.66 1217.73 L606.94 1216.99 L607.19 1216.25 L607.40 1215.49 L607.59 1214.73 L607.75 1213.96 L607.90 1213.18 L608.03 1212.40 L608.15 1211.61 L608.26 1210.82 L608.37 1210.02 L608.48 1209.22 L608.59 1208.41 L608.72 1207.60 L608.85 1206.79 L608.99 1205.98 L609.15 1205.17 L609.31 1204.35 L609.48 1203.54 L609.66 1202.72 L609.86 1201.91 L610.06 1201.10 L610.27 1200.29 L610.49 1199.48 L610.72 1198.67 L610.96 1197.87 L611.21 1197.08 L611.47 1196.29 L611.75 1195.51 L612.05 1194.75 L612.38 1194.00 L612.72 1193.26 L613.09 1192.55 L613.50 1191.86 L613.93 1191.19 L614.40 1190.55 L614.90 1189.94 L615.44 1189.36 L616.03 1188.82 L616.66 1188.31 L617.34 1187.85 L618.07 1187.46 L618.85 1187.19 L619.68 1187.06" fill="none" stroke="#56B4E9" stroke-width="7.5" stroke-linecap="square" stroke-linejoin="round"/>
<path d="M575.96 1269.25 L576.84 1269.23 L577.68 1269.11 L578.46 1268.90 L579.20 1268.62 L579.90 1268.26 L580.56 1267.83 L581.17 1267.35 L581.75 1266.80 L582.29 1266.21 L582.80 1265.57 L583.27 1264.90 L583.71 1264.19 L584.12 1263.46 L584.50 1262.71 L584.86 1261.95 L585.19 1261.17 L585.50 1260.40 L585.78 1259.61 L586.05 1258.83 L586.30 1258.04 L586.53 1257.24 L586.75 1256.45 L586.96 1255.65 L587.16 1254.85 L587.35 1254.05 L587.54 1253.25 L587.72 1252.45 L587.90 1251.65 L588.09 1250.86 L588.27 1250.07 L588.46 1249.28 L588.65 1248.50 L588.86 1247.72 L589.07 1246.94 L589.30 1246.18 L589.54 1245.42 L589.79 1244.67 L590.07 1243.92 L590.36 1243.18 L590.68 1242.45 L591.01 1241.73 L591.38 1241.01 L591.76 1240.30 L592.17 1239.59 L592.59 1238.89 L593.03 1238.19 L593.48 1237.50 L593.93 1236.81 L594.40 1236.13 L594.88 1235.45 L595.35 1234.78 L595.83 1234.11 L596.31 1233.44 L596.79 1232.78 L597.27 1232.12 L597.74 1231.46 L598.22 1230.81 L598.70 1230.15 L599.17 1229.49 L599.65 1228.84 L600.14 1228.18 L600.62 1227.53 L601.11 1226.87 L601.60 1226.21 L602.09 1225.54 L602.59 1224.88 L603.09 1224.21 L603.58 1223.53 L604.06 1222.85 L604.53 1222.17 L604.98 1221.48 L605.41 1220.78 L605.82 1220.07 L606.21 1219.36 L606.56 1218.64 L606.88 1217.91 L607.16 1217.17 L607.41 1216.43 L607.62 1215.67 L607.81 1214.91 L607.97 1214.14 L608.12 1213.36 L608.25 1212.58 L608.37 1211.79 L608.48 1211.00 L608.59 1210.20 L608.70 1209.40 L608.81 1208.59 L608.94 1207.78 L609.07 1206.97 L609.21 1206.16 L609.37 1205.35 L609.53 1204.53 L609.70 1203.72 L609.88 1202.90 L610.08 1202.09 L610.28 1201.28 L610.49 1200.47 L610.71 1199.66 L610.94 1198.85 L611.18 1198.05 L611.43 1197.26 L611.69 1196.47 L611.97 1195.69 L612.27 1194.93 L612.60 1194.18 L612.94 1193.44 L613.31 1192.73 L613.72 1192.04 L614.15 1191.37 L614.62 1190.73 L615.12 1190.12 L615.66 1189.54 L616.25 1189.00 L616.88 1188.49 L617.56 1188.03 L618.29 1187.64 L619.07 1187.37 L619.90 1187.24" fill="none" stroke="#D55E00" stroke-width="7.5" stroke-linecap="square" stroke-linejoin="round"/>
<path d="M607.00 1178.50 L611.51 1177.68 L616.02 1176.95 L620.53 1176.29 L625.05 1175.70 L629.56 1175.18 L634.07 1174.71 L638.58 1174.30 L643.09 1173.92 L647.60 1173.59 L652.11 1173.29 L656.63 1173.03 L661.14 1172.79 L665.65 1172.58 L670.16 1172.39 L674.67 1172.22 L679.18 1172.07 L683.69 1171.93 L688.21 1171.81 L692.72 1171.70 L697.23 1171.61 L701.74 1171.52 L706.25 1171.44 L710.76 1171.38 L715.27 1171.31 L719.78 1171.26 L724.30 1171.21 L728.81 1171.17 L733.32 1171.13 L737.83 1171.09 L742.34 1171.06 L746.85 1171.03 L751.36 1171.01 L755.88 1170.99 L760.39 1170.97 L764.90 1170.95 L769.41 1170.93 L773.92 1170.92 L778.43 1170.91 L782.94 1170.89 L787.46 1170.88 L791.97 1170.88 L796.48 1170.87 L800.99 1170.86 L805.50 1170.85 L810.01 1170.85 L814.52 1170.84 L819.04 1170.84 L823.55 1170.83 L828.06 1170.83 L832.57 1170.83 L837.08 1170.82 L841.59 1170.82 L846.10 1170.82 L850.62 1170.82 L855.13 1170.82 L859.64 1170.81 L864.15 1170.81 L868.66 1170.81 L873.17 1170.81 L877.68 1170.81 L882.19 1170.81 L886.71 1170.81 L891.22 1170.81 L895.73 1170.81 L900.24 1170.81 L904.75 1170.80 L909.26 1170.80 L913.77 1170.80 L918.29 1170.80 L922.80 1170.80 L927.31 1170.80 L931.82 1170.80 L936.33 1170.80 L940.84 1170.80 L945.35 1170.80 L949.87 1170.80 L954.38 1170.80 L958.89 1170.80 L963.40 1170.80" fill="none" stroke="#009E73" stroke-width="7.5" stroke-dasharray="27.3 11.6"/>
<path d="M607.00 1177.90 L611.51 1177.08 L616.02 1176.35 L620.53 1175.69 L625.05 1175.10 L629.56 1174.58 L634.07 1174.11 L638.58 1173.70 L643.09 1173.32 L647.60 1172.99 L652.11 1172.69 L656.63 1172.43 L661.14 1172.19 L665.65 1171.98 L670.16 1171.79 L674.67 1171.62 L679.18 1171.47 L683.69 1171.33 L688.21 1171.21 L692.72 1171.10 L697.23 1171.01 L701.74 1170.92 L706.25 1170.84 L710.76 1170.78 L715.27 1170.71 L719.78 1170.66 L724.30 1170.61 L728.81 1170.57 L733.32 1170.53 L737.83 1170.49 L742.34 1170.46 L746.85 1170.43 L751.36 1170.41 L755.88 1170.39 L760.39 1170.37 L764.90 1170.35 L769.41 1170.33 L773.92 1170.32 L778.43 1170.31 L782.94 1170.29 L787.46 1170.28 L791.97 1170.28 L796.48 1170.27 L800.99 1170.26 L805.50 1170.25 L810.01 1170.25 L814.52 1170.24 L819.04 1170.24 L823.55 1170.23 L828.06 1170.23 L832.57 1170.23 L837.08 1170.22 L841.59 1170.22 L846.10 1170.22 L850.62 1170.22 L855.13 1170.22 L859.64 1170.21 L864.15 1170.21 L868.66 1170.21 L873.17 1170.21 L877.68 1170.21 L882.19 1170.21 L886.71 1170.21 L891.22 1170.21 L895.73 1170.21 L900.24 1170.21 L904.75 1170.20 L909.26 1170.20 L913.77 1170.20 L918.29 1170.20 L922.80 1170.20 L927.31 1170.20 L931.82 1170.20 L936.33 1170.20 L940.84 1170.20 L945.35 1170.20 L949.87 1170.20 L954.38 1170.20 L958.89 1170.20 L963.40 1170.20" fill="none" stroke="#D55E00" stroke-width="7.5" stroke-dasharray="27.3 11.6"/>
</svg>
</body></html>
